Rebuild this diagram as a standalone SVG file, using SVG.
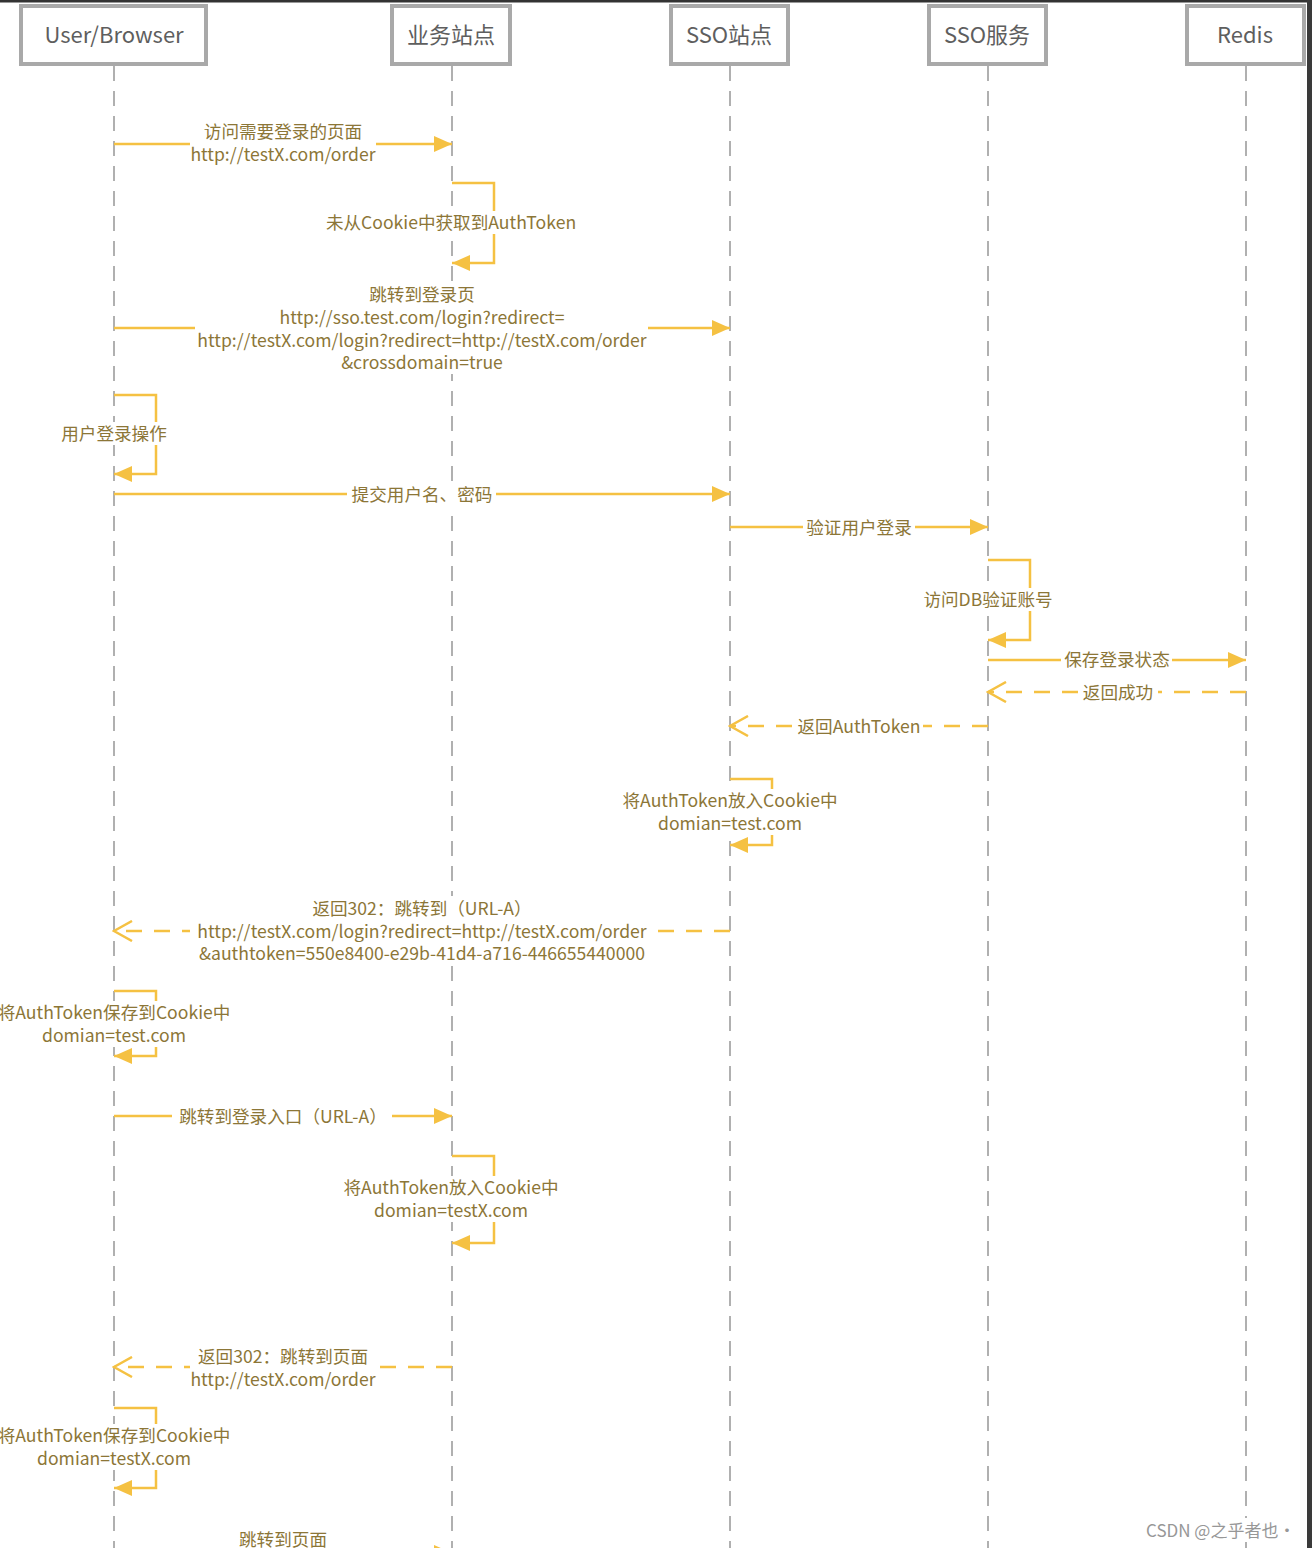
<svg xmlns="http://www.w3.org/2000/svg" width="1312" height="1548" viewBox="0 0 1312 1548">
<style>
.box{fill:#fff;stroke:#a9a9a9;stroke-width:4}
.hdr{font-family:"Noto Sans CJK SC","Noto Sans",sans-serif;font-size:22px;fill:#5e5e5e;text-anchor:middle;dominant-baseline:central}
.life{stroke:#b0b0b0;stroke-width:2;stroke-dasharray:15 10;fill:none}
.msg{stroke:#f5c142;stroke-width:2.5;fill:none}
.dash{stroke-dasharray:16 12}
.lbl{font-family:"Noto Sans CJK SC","Noto Sans",sans-serif;font-size:17.6px;fill:#8c7637;text-anchor:middle;dominant-baseline:central}
.bg{fill:#fff}
.wm{font-family:"Noto Sans CJK SC","Liberation Sans",sans-serif;font-size:17px;fill:#979797;dominant-baseline:central}
</style>
<defs>
<marker id="fa" viewBox="0 0 18 16" refX="18" refY="8" markerWidth="18" markerHeight="16" markerUnits="userSpaceOnUse" orient="auto"><path d="M0,0 L18,8 L0,16 Z" fill="#f5c142"/></marker>
<marker id="oa" viewBox="0 0 22 22" refX="20" refY="11" markerWidth="22" markerHeight="22" markerUnits="userSpaceOnUse" orient="auto"><path d="M2,1 L20,11 L2,21" fill="none" stroke="#f5c142" stroke-width="2.5" stroke-dasharray="none"/></marker>
</defs>
<rect x="0" y="0" width="1312" height="1548" fill="#fff"/>
<rect x="0" y="0" width="1312" height="2.5" fill="#333"/>
<rect x="1307" y="0" width="5" height="1548" fill="#3a3a3a"/>

<g id="lifelines">
<line class="life" x1="114" y1="66" x2="114" y2="1548"/>
<line class="life" x1="452" y1="66" x2="452" y2="1548"/>
<line class="life" x1="730" y1="66" x2="730" y2="1548"/>
<line class="life" x1="988" y1="66" x2="988" y2="1548"/>
<line class="life" x1="1246" y1="66" x2="1246" y2="1548"/>
</g>

<g id="connectors">
<line class="msg" x1="114" y1="144" x2="452" y2="144" marker-end="url(#fa)"/>
<path class="msg" d="M452,183 H494 V263 H452" marker-end="url(#fa)"/>
<line class="msg" x1="114" y1="328" x2="730" y2="328" marker-end="url(#fa)"/>
<path class="msg" d="M114,395 H156 V474 H114" marker-end="url(#fa)"/>
<line class="msg" x1="114" y1="494" x2="730" y2="494" marker-end="url(#fa)"/>
<line class="msg" x1="730" y1="527" x2="988" y2="527" marker-end="url(#fa)"/>
<path class="msg" d="M988,560 H1030 V640 H988" marker-end="url(#fa)"/>
<line class="msg" x1="988" y1="660" x2="1246" y2="660" marker-end="url(#fa)"/>
<line class="msg dash" x1="1246" y1="692" x2="988" y2="692" marker-end="url(#oa)"/>
<line class="msg dash" x1="988" y1="726" x2="730" y2="726" marker-end="url(#oa)"/>
<path class="msg" d="M730,779 H772 V845 H730" marker-end="url(#fa)"/>
<line class="msg dash" x1="730" y1="931" x2="114" y2="931" marker-end="url(#oa)"/>
<path class="msg" d="M114,991 H156 V1056 H114" marker-end="url(#fa)"/>
<line class="msg" x1="114" y1="1116" x2="452" y2="1116" marker-end="url(#fa)"/>
<path class="msg" d="M452,1156 H494 V1243 H452" marker-end="url(#fa)"/>
<line class="msg dash" x1="452" y1="1367" x2="114" y2="1367" marker-end="url(#oa)"/>
<path class="msg" d="M114,1408 H156 V1488 H114" marker-end="url(#fa)"/>
<line class="msg" x1="114" y1="1553" x2="452" y2="1553" marker-end="url(#fa)"/>
</g>

<g id="labels">
<rect class="bg" x="190" y="120" width="186" height="46"/>
<text class="lbl" x="283" y="130">访问需要登录的页面</text>
<text class="lbl" x="283" y="153">http://testX.com/order</text>

<rect class="bg" x="321" y="211" width="260" height="23"/>
<text class="lbl" x="451" y="221">未从Cookie中获取到AuthToken</text>

<rect class="bg" x="195" y="282" width="453" height="92"/>
<text class="lbl" x="422" y="293">跳转到登录页</text>
<text class="lbl" x="422" y="316">http://sso.test.com/login?redirect=</text>
<text class="lbl" x="422" y="339">http://testX.com/login?redirect=http://testX.com/order</text>
<text class="lbl" x="422" y="361">&amp;crossdomain=true</text>

<rect class="bg" x="58" y="422" width="112" height="23"/>
<text class="lbl" x="114" y="432">用户登录操作</text>

<rect class="bg" x="347" y="483" width="149" height="23"/>
<text class="lbl" x="422" y="493">提交用户名、密码</text>

<rect class="bg" x="803" y="516" width="112" height="23"/>
<text class="lbl" x="859" y="526">验证用户登录</text>

<rect class="bg" x="920" y="588" width="135" height="23"/>
<text class="lbl" x="988" y="598">访问DB验证账号</text>

<rect class="bg" x="1061" y="648" width="111" height="23"/>
<text class="lbl" x="1117" y="658">保存登录状态</text>

<rect class="bg" x="1078" y="681" width="80" height="23"/>
<text class="lbl" x="1118" y="691">返回成功</text>

<rect class="bg" x="795" y="715" width="128" height="23"/>
<text class="lbl" x="859" y="725">返回AuthToken</text>

<rect class="bg" x="619" y="789" width="221" height="46"/>
<text class="lbl" x="730" y="799">将AuthToken放入Cookie中</text>
<text class="lbl" x="730" y="822">domian=test.com</text>

<rect class="bg" x="190" y="896" width="464" height="68"/>
<text class="lbl" x="422" y="907">返回302：跳转到（URL-A）</text>
<text class="lbl" x="422" y="930">http://testX.com/login?redirect=http://testX.com/order</text>
<text class="lbl" x="422" y="952">&amp;authtoken=550e8400-e29b-41d4-a716-446655440000</text>

<rect class="bg" x="0" y="1001" width="233" height="46"/>
<text class="lbl" x="114" y="1011">将AuthToken保存到Cookie中</text>
<text class="lbl" x="114" y="1034">domian=test.com</text>

<rect class="bg" x="172" y="1105" width="220" height="23"/>
<text class="lbl" x="283" y="1115">跳转到登录入口（URL-A）</text>

<rect class="bg" x="341" y="1176" width="221" height="46"/>
<text class="lbl" x="451" y="1186">将AuthToken放入Cookie中</text>
<text class="lbl" x="451" y="1209">domian=testX.com</text>

<rect class="bg" x="190" y="1345" width="186" height="46"/>
<text class="lbl" x="283" y="1355">返回302：跳转到页面</text>
<text class="lbl" x="283" y="1378">http://testX.com/order</text>

<rect class="bg" x="0" y="1424" width="233" height="46"/>
<text class="lbl" x="114" y="1434">将AuthToken保存到Cookie中</text>
<text class="lbl" x="114" y="1457">domian=testX.com</text>

<rect class="bg" x="234" y="1528" width="98" height="20"/>
<text class="lbl" x="283" y="1538">跳转到页面</text>
</g>

<g id="node-user"><rect class="box" x="21" y="6" width="185" height="58"/><text class="hdr" x="114" y="33">User/Browser</text></g>
<g id="node-biz"><rect class="box" x="392" y="6" width="118" height="58"/><text class="hdr" x="451" y="33">业务站点</text></g>
<g id="node-ssosite"><rect class="box" x="671" y="6" width="117" height="58"/><text class="hdr" x="729" y="33">SSO站点</text></g>
<g id="node-ssosvc"><rect class="box" x="929" y="6" width="117" height="58"/><text class="hdr" x="987" y="33">SSO服务</text></g>
<g id="node-redis"><rect class="box" x="1187" y="6" width="117" height="58"/><text class="hdr" x="1245" y="33">Redis</text></g>

<rect class="bg" x="1143" y="1518" width="156" height="24"/>
<text class="wm" x="1146" y="1529">CSDN @之乎者也·</text>
</svg>
